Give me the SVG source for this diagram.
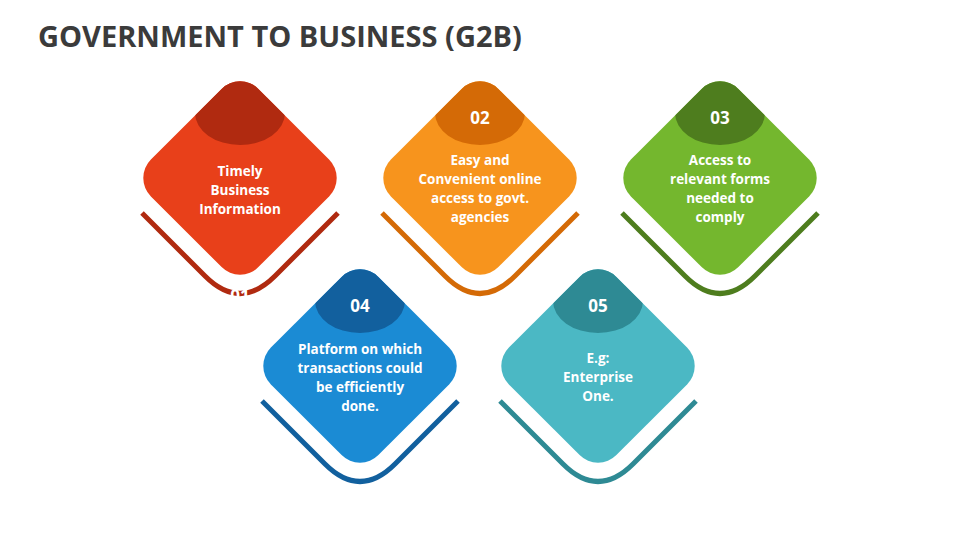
<svg xmlns="http://www.w3.org/2000/svg" width="960" height="540" viewBox="0 0 960 540">
<style>
.t{font-family:"Open Sans","Liberation Sans",sans-serif;font-weight:bold;fill:#fff;font-size:13.5px;text-anchor:middle}
.n{font-size:17px}
.u{fill:none;stroke-width:5;stroke-linecap:butt}
</style>
<defs>
<rect id="d" x="-76" y="-76" width="152" height="152" rx="26" transform="rotate(45)"/>
<clipPath id="c"><use href="#d"/></clipPath>
<path id="cap" d="M-110,-120 H110 V-65 H45 A45 32 0 0 1 -45,-65 H-110 Z"/>
<path id="ul" d="M-98,35 L-35,98 Q0,133 35,98 L98,35"/>
</defs>
<rect width="960" height="540" fill="#fff"/>
<text x="38" y="47" font-family="'Open Sans','Liberation Sans',sans-serif" font-weight="bold" font-size="29" fill="#3b3b3b">GOVERNMENT TO BUSINESS (G2B)</text>
<g id="connectors"></g>
<g id="n1" transform="translate(240,178)">
<use href="#ul" class="u" stroke="#B02A10"/><use href="#d" fill="#E8401A"/><use href="#cap" clip-path="url(#c)" fill="#B02A10"/>
<text class="t n" y="124">01</text>
<text class="t"><tspan x="0" y="-2">Timely</tspan><tspan x="0" y="17">Business</tspan><tspan x="0" y="36">Information</tspan></text>
</g>
<g id="n2" transform="translate(480,178)">
<use href="#ul" class="u" stroke="#D46A06"/><use href="#d" fill="#F7941D"/><use href="#cap" clip-path="url(#c)" fill="#D46A06"/>
<text class="t n" y="-54">02</text>
<text class="t"><tspan x="0" y="-13">Easy and</tspan><tspan x="0" y="6">Convenient online</tspan><tspan x="0" y="25">access to govt.</tspan><tspan x="0" y="44">agencies</tspan></text>
</g>
<g id="n3" transform="translate(720,178)">
<use href="#ul" class="u" stroke="#4E7D1E"/><use href="#d" fill="#74B72E"/><use href="#cap" clip-path="url(#c)" fill="#4E7D1E"/>
<text class="t n" y="-54">03</text>
<text class="t"><tspan x="0" y="-13">Access to</tspan><tspan x="0" y="6">relevant forms</tspan><tspan x="0" y="25">needed to</tspan><tspan x="0" y="44">comply</tspan></text>
</g>
<g id="n4" transform="translate(360,366)">
<use href="#ul" class="u" stroke="#12609E"/><use href="#d" fill="#1B8BD4"/><use href="#cap" clip-path="url(#c)" fill="#12609E"/>
<text class="t n" y="-54">04</text>
<text class="t"><tspan x="0" y="-12">Platform on which</tspan><tspan x="0" y="7">transactions could</tspan><tspan x="0" y="26">be efficiently</tspan><tspan x="0" y="45">done.</tspan></text>
</g>
<g id="n5" transform="translate(598,366)">
<use href="#ul" class="u" stroke="#2E8A94"/><use href="#d" fill="#4BB8C4"/><use href="#cap" clip-path="url(#c)" fill="#2E8A94"/>
<text class="t n" y="-54">05</text>
<text class="t"><tspan x="0" y="-3">E.g:</tspan><tspan x="0" y="16">Enterprise</tspan><tspan x="0" y="35">One.</tspan></text>
</g>
</svg>
